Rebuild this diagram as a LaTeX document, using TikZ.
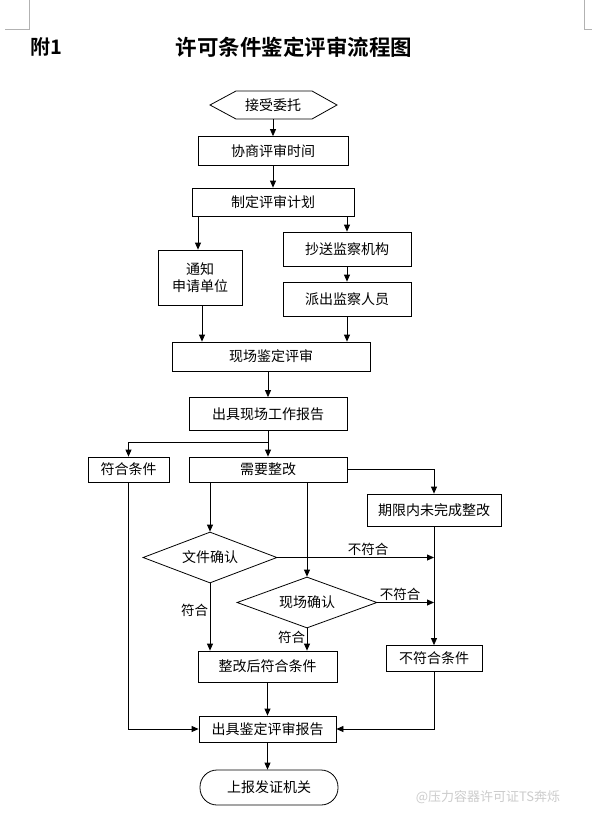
\documentclass[tikz,border=0pt]{standalone}
\usepackage{fontspec}
\newfontfamily\cjk{Noto Sans CJK SC}
\newfontfamily\cjkb{Noto Sans CJK SC Bold}
\usetikzlibrary{shapes.geometric,arrows.meta}
\begin{document}
\begin{tikzpicture}[x=1pt,y=-1pt,
  line width=0.8pt,
  box/.style={draw,rectangle,inner sep=0pt,font=\cjk\fontsize{14}{17}\selectfont,align=center},
  dia/.style={draw,diamond,inner sep=0pt,aspect=2.6,font=\cjk\fontsize{14}{17}\selectfont},
  lbl/.style={inner sep=1.5pt,font=\cjk\fontsize{13.5}{16}\selectfont},
  arr/.style={-{Triangle[length=7pt,width=6pt]}},
  corner/.style={draw=gray!60,line width=0.6pt}]
\useasboundingbox (0,0) rectangle (592,817);
\fill[white] (0,0) rectangle (592,817);
% corner marks
\coordinate (tl1) at (29,0); \coordinate (tl2) at (29,29); \coordinate (tl3) at (5,29);
\draw[corner] (tl1) -- (tl2) -- (tl3);
\coordinate (tr1) at (584,0); \coordinate (tr2) at (584,29); \coordinate (tr3) at (592,29);
\draw[corner] (tr1) -- (tr2) -- (tr3);
% titles
\node[font=\cjkb\fontsize{20}{24}\selectfont] (fu) at (46,47) {附1};
\node[font=\cjkb\fontsize{21.5}{24}\selectfont] (title) at (294,47) {许可条件鉴定评审流程图};
% nodes
\node[font=\cjk\fontsize{14}{17}\selectfont,minimum width=127,minimum height=28,inner sep=0pt] (start) at (273,105) {接受委托};
\draw (210,105) -- (236,91) -- (312,91) -- (337,105) -- (312,119) -- (236,119) -- cycle;
\node[box,minimum width=150,minimum height=29] (nego) at (273,151) {协商评审时间};
\node[box,minimum width=162,minimum height=28] (plan) at (273,202) {制定评审计划};
\node[box,minimum width=84,minimum height=55] (notify) at (200,277.5) {通知\\申请单位};
\node[box,minimum width=128,minimum height=34] (copy) at (347,249) {抄送监察机构};
\node[box,minimum width=128,minimum height=34] (send) at (347,299) {派出监察人员};
\node[box,minimum width=198,minimum height=29] (site) at (271,356.5) {现场鉴定评审};
\node[box,minimum width=158,minimum height=33] (report) at (268,414) {出具现场工作报告};
\node[box,minimum width=81,minimum height=25] (ok) at (128.5,469.5) {符合条件};
\node[box,minimum width=158,minimum height=25] (rect) at (268,469.5) {需要整改};
\node[box,minimum width=134,minimum height=32] (overdue) at (434,510) {期限内未完成整改};
\node[dia,minimum width=134,minimum height=51] (file) at (210,557.5) {文件确认};
\node[dia,minimum width=140,minimum height=51] (sitecheck) at (307,602.5) {现场确认};
\node[box,minimum width=139,minimum height=31] (fixed) at (267.5,666.5) {整改后符合条件};
\node[box,minimum width=96,minimum height=26] (fail) at (434,658.5) {不符合条件};
\node[box,minimum width=137,minimum height=26] (final) at (267.5,729) {出具鉴定评审报告};
\node[box,rounded corners=17pt,minimum width=138,minimum height=35] (submit) at (269,787.5) {上报发证机关};
% connectors
\draw[arr] (start) -- (nego);
\draw[arr] (nego) -- (nego.south |- plan.north);
\draw[arr] ([xshift=-2pt]notify.north |- plan.south) -- ([xshift=-2pt]notify.north);
\draw[arr] (copy.north |- plan.south) -- (copy.north);
\draw[arr] (copy) -- (send);
\draw[arr] ([xshift=2pt]notify.south) -- ([xshift=2pt]notify.south |- site.north);
\draw[arr] (send) -- (send.south |- site.north);
\draw[arr] (report.north |- site.south) -- (report.north);
\draw[arr] (report) -- (rect);
\draw[arr] (report.south) -- ++(0,11) -| (ok.north);
\draw[arr] (rect.east) -| (overdue.north);
\draw[arr] (rect.south -| file.north) -- (file.north);
\draw[arr] (rect.south -| sitecheck.north) -- (sitecheck.north);
\draw[arr] (overdue) -- (fail);
\draw[arr] (file.east) -- (file.east -| overdue.south) node[lbl,pos=0.58,above] (l1) {不符合};
\draw[arr] (sitecheck.east) -- (sitecheck.east -| overdue.south) node[lbl,pos=0.4,above] (l2) {不符合};
\draw[arr] (file.south) -- (file.south |- fixed.north) node[lbl,pos=0.4,left] (l3) {符合};
\draw[arr] (sitecheck.south) -- (sitecheck.south |- fixed.north) node[lbl,pos=0.4,left] (l4) {符合};
\draw[arr] (ok.south) |- (final.west);
\draw[arr] (fixed) -- (fixed.south |- final.north);
\draw[arr] (fail.south) |- (final.east);
\draw[arr] (final.south |- final.south) -- (final.south |- submit.north);
% watermark
\node[text=gray!40,font=\cjk\fontsize{13}{16}\selectfont] (wm) at (488,797) {@压力容器许可证TS奔烁};
\end{tikzpicture}
\end{document}
